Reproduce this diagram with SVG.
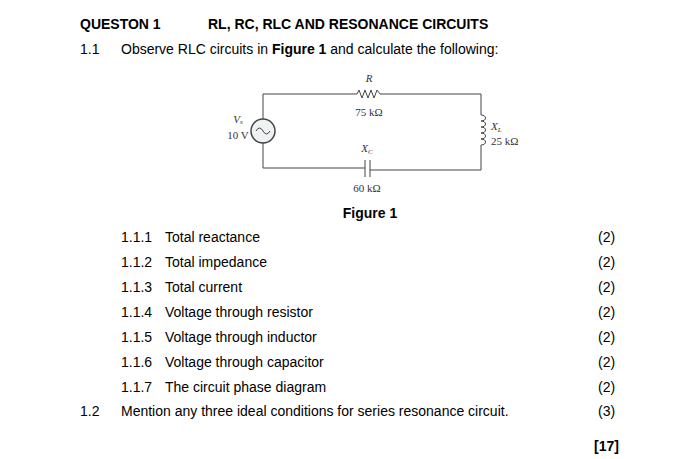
<svg xmlns="http://www.w3.org/2000/svg" width="674" height="459" viewBox="0 0 674 459">
<style>
.t{font-family:"Liberation Sans",Arial,sans-serif;font-size:14px;fill:#000}
.b{font-weight:bold}
.c{font-family:"Liberation Serif","Times New Roman",serif;font-size:11px;fill:#333}
.w{fill:none;stroke:#444;stroke-width:1}
</style>
<rect width="674" height="459" fill="#fff"/>
<text class="t b" x="80" y="29">QUESTON 1</text>
<text class="t b" x="208" y="29">RL, RC, RLC AND RESONANCE CIRCUITS</text>
<text class="t" x="80" y="54">1.1</text>
<text class="t" x="121" y="54">Observe RLC circuits in <tspan class="b">Figure 1</tspan> and calculate the following:</text>
<g id="circuit">
<g id="wires">
<path class="w" d="M263,119 V94 H357 M380,94 H481 V115 M481,148 V170 H370 M365,168 H263 V143"/>
</g>
<g id="source"><circle cx="263" cy="131" r="12" fill="#eef2f2" stroke="#444" stroke-width="1.5"/><path class="w" d="M256,131 q3.5,-6 7,0 t7,0" stroke-width="1.3"/>
<text class="c" x="238" y="123" font-style="italic" text-anchor="middle">V<tspan font-size="7" dy="1">s</tspan></text>
<text class="c" x="238" y="139" text-anchor="middle">10 V</text></g>
<g id="resistor"><path class="w" d="M357,94 l2,-4 l3,8 l3,-8 l3,8 l3,-8 l3,8 l3,-8 l3,4"/>
<text class="c" x="369" y="82" font-style="italic" text-anchor="middle">R</text>
<text class="c" x="369" y="116" text-anchor="middle">75 kΩ</text></g>
<g id="inductor"><path class="w" stroke-width="1.3" d="M481,115 c6,0 6,6 0,6 c6,0 6,6 0,6 c6,0 6,6 0,6 c6,0 6,6 0,6 c6,0 6,6 0,6 v3"/>
<text class="c" x="491" y="130" font-style="italic">X<tspan font-size="7" dy="2">L</tspan></text>
<text class="c" x="491" y="145">25 kΩ</text></g>
<g id="capacitor"><path class="w" stroke-width="1.4" d="M365,160 v17 M370,160 v17"/>
<text class="c" x="367" y="152" font-style="italic" text-anchor="middle">X<tspan font-size="7" dy="2">C</tspan></text>
<text class="c" x="367" y="192" text-anchor="middle">60 kΩ</text></g>
</g>
<text class="t b" x="370" y="218" text-anchor="middle">Figure 1</text>
<g class="t">
<text x="121" y="242">1.1.1</text><text x="165" y="242">Total reactance</text>
<text x="121" y="267">1.1.2</text><text x="165" y="267">Total impedance</text>
<text x="121" y="292">1.1.3</text><text x="165" y="292">Total current</text>
<text x="121" y="317">1.1.4</text><text x="165" y="317">Voltage through resistor</text>
<text x="121" y="342">1.1.5</text><text x="165" y="342">Voltage through inductor</text>
<text x="121" y="367">1.1.6</text><text x="165" y="367">Voltage through capacitor</text>
<text x="121" y="392">1.1.7</text><text x="165" y="392">The circuit phase diagram</text>
<text x="80" y="416">1.2</text>
<text x="121" y="416">Mention any three ideal conditions for series resonance circuit.</text>
<text x="598" y="242">(2)</text><text x="598" y="267">(2)</text><text x="598" y="292">(2)</text><text x="598" y="317">(2)</text><text x="598" y="342">(2)</text><text x="598" y="367">(2)</text><text x="598" y="392">(2)</text><text x="598" y="416">(3)</text>
<text class="b" x="594" y="451">[17]</text>
</g>
</svg>
